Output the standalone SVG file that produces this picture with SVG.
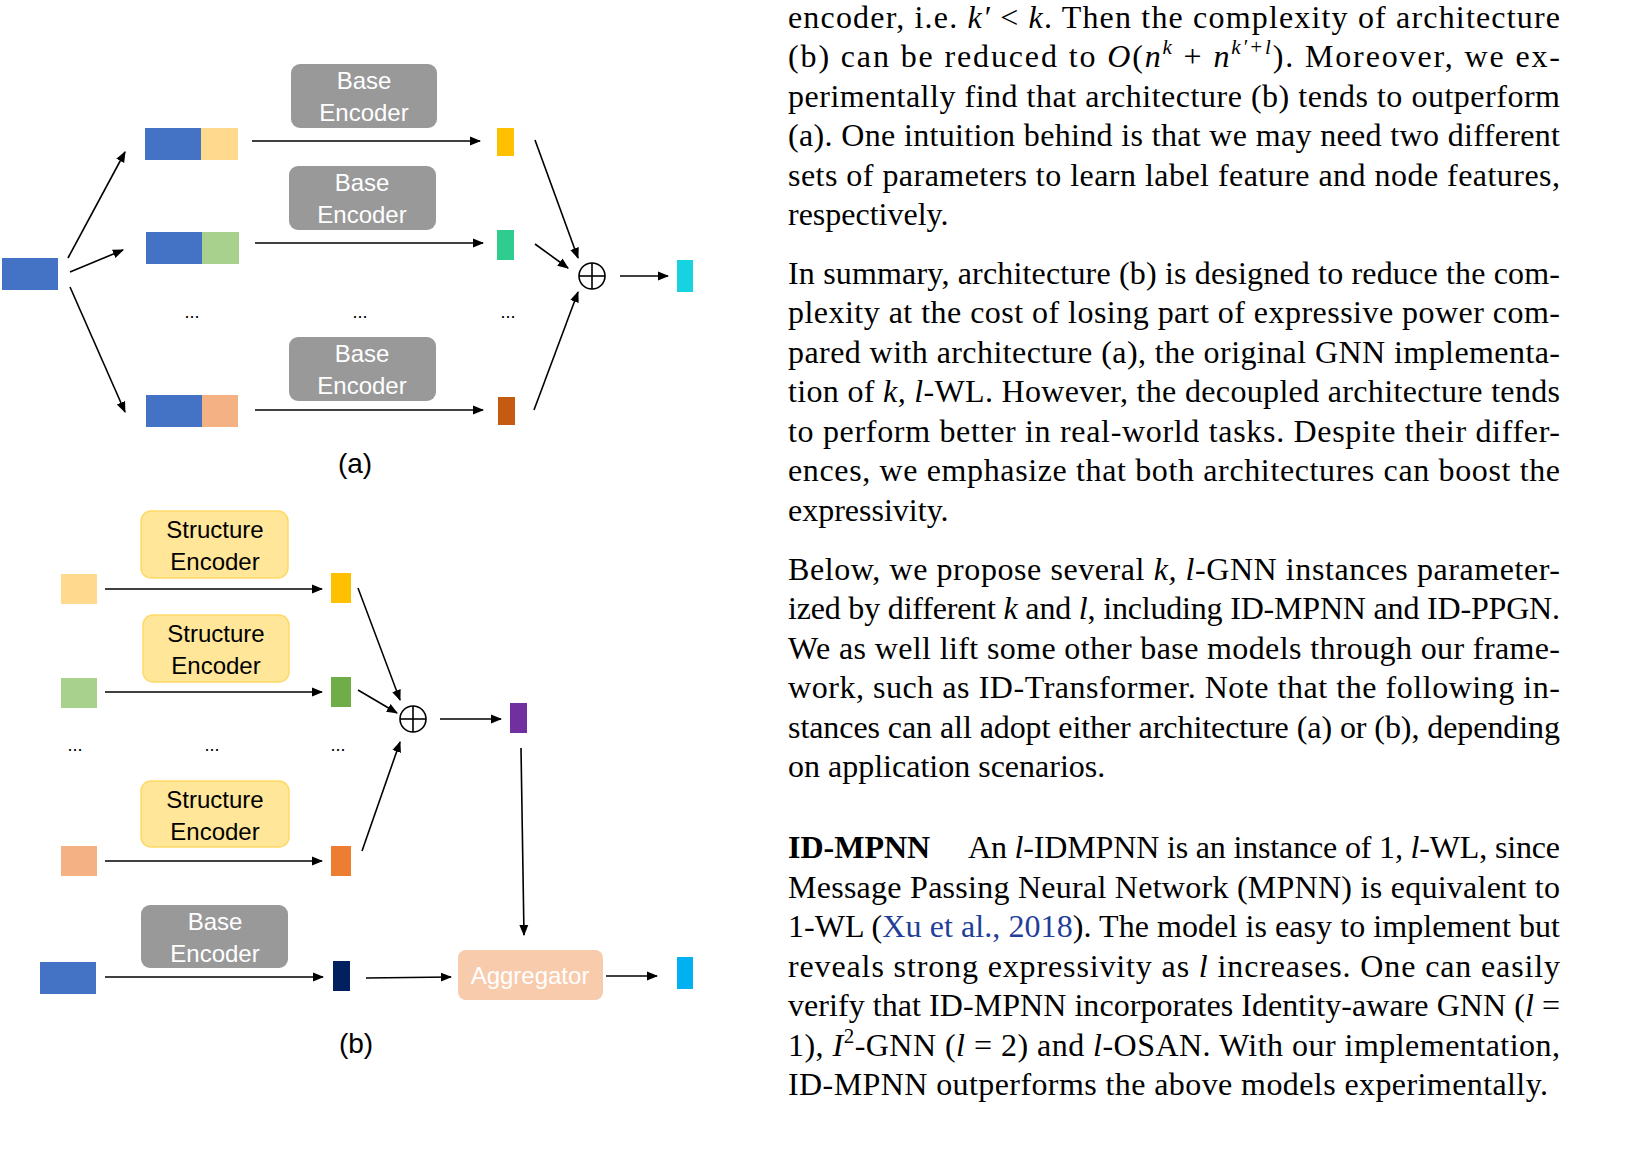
<svg xmlns="http://www.w3.org/2000/svg" width="1650" height="1161" viewBox="0 0 1650 1161">
<defs>
<marker id="ah" viewBox="0 0 10 10" refX="9" refY="5" markerWidth="7" markerHeight="7" orient="auto"><path d="M0,1 L10,5 L0,9 z" fill="#000"/></marker>
<style>
.c line{stroke:#000;stroke-width:1.6;marker-end:url(#ah)}
.gb{fill:#999;}
.gt{font-family:"Liberation Sans",Arial,sans-serif;font-size:24px;fill:#fff;text-anchor:middle}
.st{fill:#FFE699;stroke:#FFD966;stroke-width:1.5}
.stt{font-family:"Liberation Sans",Arial,sans-serif;font-size:24px;fill:#000;text-anchor:middle}
.lab{font-family:"Liberation Sans",Arial,sans-serif;font-size:28px;fill:#000;text-anchor:middle}
.dots{font-family:"Liberation Sans",Arial,sans-serif;font-size:18px;fill:#000;text-anchor:middle}
.p{font-family:"Liberation Serif","Times New Roman",serif;font-size:32px;fill:#000}
.i{font-style:italic}
.b{font-weight:bold}
.ln{fill:#1F3F99}
.pl{fill:none;stroke:#000;stroke-width:1.6}
</style>
</defs>
<rect width="1650" height="1161" fill="#fff"/>

<g id="diagram-a">
<rect x="2" y="258" width="56" height="32" fill="#4472C4"/>
<rect x="145" y="128" width="56" height="32" fill="#4472C4"/><rect x="201" y="128" width="37" height="32" fill="#FFD98E"/>
<rect x="146" y="232" width="56" height="32" fill="#4472C4"/><rect x="202" y="232" width="37" height="32" fill="#A9D18E"/>
<rect x="146" y="395" width="56" height="32" fill="#4472C4"/><rect x="202" y="395" width="36" height="32" fill="#F4B183"/>
<g id="enc-a1"><rect class="gb" x="291" y="64" width="146" height="64" rx="9"/><text class="gt" x="364" y="89">Base</text><text class="gt" x="364" y="121">Encoder</text></g>
<g id="enc-a2"><rect class="gb" x="289" y="166" width="147" height="64" rx="9"/><text class="gt" x="362" y="191">Base</text><text class="gt" x="362" y="223">Encoder</text></g>
<g id="enc-a3"><rect class="gb" x="289" y="337" width="147" height="64" rx="9"/><text class="gt" x="362" y="362">Base</text><text class="gt" x="362" y="394">Encoder</text></g>
<rect x="497" y="128" width="17" height="28" fill="#FFC000"/>
<rect x="497" y="230" width="17" height="30" fill="#2ECC8E"/>
<rect x="498" y="397" width="17" height="28" fill="#C55A11"/>
<text class="dots" x="192" y="318">...</text><text class="dots" x="360" y="318">...</text><text class="dots" x="508" y="318">...</text>
<circle class="pl" cx="592" cy="276" r="13"/><line class="pl" x1="579" y1="276" x2="605" y2="276"/><line class="pl" x1="592" y1="263" x2="592" y2="289"/>
<rect x="677" y="260" width="16" height="32" fill="#17D2E0"/>
<text class="lab" x="355" y="473">(a)</text>
</g>

<g id="diagram-b">
<g id="enc-b1"><rect class="st" x="141" y="511" width="147" height="67" rx="10"/><text class="stt" x="215" y="538">Structure</text><text class="stt" x="215" y="570">Encoder</text></g>
<g id="enc-b2"><rect class="st" x="143" y="615" width="146" height="67" rx="10"/><text class="stt" x="216" y="642">Structure</text><text class="stt" x="216" y="674">Encoder</text></g>
<g id="enc-b3"><rect class="st" x="141" y="781" width="148" height="66" rx="10"/><text class="stt" x="215" y="808">Structure</text><text class="stt" x="215" y="840">Encoder</text></g>
<rect x="61" y="574" width="36" height="30" fill="#FFD98E"/>
<rect x="61" y="678" width="36" height="30" fill="#A9D18E"/>
<rect x="61" y="846" width="36" height="30" fill="#F4B183"/>
<rect x="331" y="573" width="20" height="30" fill="#FFC000"/>
<rect x="331" y="677" width="20" height="30" fill="#70AD47"/>
<rect x="331" y="846" width="20" height="30" fill="#ED7D31"/>
<text class="dots" x="75" y="751">...</text><text class="dots" x="212" y="751">...</text><text class="dots" x="338" y="751">...</text>
<circle class="pl" cx="413" cy="719" r="13"/><line class="pl" x1="400" y1="719" x2="426" y2="719"/><line class="pl" x1="413" y1="706" x2="413" y2="732"/>
<rect x="510" y="703" width="17" height="30" fill="#7030A0"/>
<g id="enc-b4"><rect class="gb" x="141" y="905" width="147" height="63" rx="9"/><text class="gt" x="215" y="930">Base</text><text class="gt" x="215" y="962">Encoder</text></g>
<rect x="40" y="962" width="56" height="32" fill="#4472C4"/>
<rect x="333" y="961" width="17" height="30" fill="#002060"/>
<g id="aggregator"><rect x="458" y="950" width="145" height="50" rx="8" fill="#F8CBAD"/><text class="gt" x="530" y="984">Aggregator</text></g>
<rect x="677" y="957" width="16" height="32" fill="#00B0F0"/>
<text class="lab" x="356" y="1053">(b)</text>
</g>

<g id="connectors" class="c">
<line x1="68" y1="258" x2="125" y2="152"/>
<line x1="70" y1="272" x2="123" y2="250"/>
<line x1="70" y1="287" x2="125" y2="412"/>
<line x1="252" y1="141" x2="480" y2="141"/>
<line x1="255" y1="243" x2="483" y2="243"/>
<line x1="255" y1="410" x2="483" y2="410"/>
<line x1="535" y1="140" x2="578" y2="258"/>
<line x1="535" y1="244" x2="568" y2="268"/>
<line x1="534" y1="410" x2="578" y2="292"/>
<line x1="620" y1="276" x2="668" y2="276"/>
<line x1="105" y1="589" x2="322" y2="589"/>
<line x1="105" y1="692" x2="322" y2="692"/>
<line x1="105" y1="861" x2="322" y2="861"/>
<line x1="358" y1="588" x2="400" y2="700"/>
<line x1="358" y1="690" x2="397" y2="713"/>
<line x1="362" y1="851" x2="400" y2="742"/>
<line x1="440" y1="719" x2="501" y2="719"/>
<line x1="521" y1="748" x2="524" y2="935"/>
<line x1="105" y1="977" x2="323" y2="977"/>
<line x1="366" y1="978" x2="451" y2="977"/>
<line x1="606" y1="976" x2="657" y2="976"/>
</g>

<g id="body-text">
<text class="p" x="788" y="28" textLength="772" lengthAdjust="spacing">encoder, i.e. <tspan class="i">k′</tspan> &lt; <tspan class="i">k</tspan>. Then the complexity of architecture</text>
<text class="p" x="788" y="67" textLength="772" lengthAdjust="spacing">(b) can be reduced to <tspan class="i">O</tspan>(<tspan class="i">n</tspan><tspan class="i" font-size="21" dy="-13">k</tspan><tspan dy="13"> + </tspan><tspan class="i">n</tspan><tspan class="i" font-size="21" dy="-13">k′+l</tspan><tspan dy="13">). Moreover, we ex-</tspan></text>
<text class="p" x="788" y="107" textLength="772" lengthAdjust="spacing">perimentally find that architecture (b) tends to outperform</text>
<text class="p" x="788" y="146" textLength="772" lengthAdjust="spacing">(a). One intuition behind is that we may need two different</text>
<text class="p" x="788" y="186" textLength="772" lengthAdjust="spacing">sets of parameters to learn label feature and node features,</text>
<text class="p" x="788" y="225">respectively.</text>
<text class="p" x="788" y="284" textLength="772" lengthAdjust="spacing">In summary, architecture (b) is designed to reduce the com-</text>
<text class="p" x="788" y="323" textLength="772" lengthAdjust="spacing">plexity at the cost of losing part of expressive power com-</text>
<text class="p" x="788" y="363" textLength="772" lengthAdjust="spacing">pared with architecture (a), the original GNN implementa-</text>
<text class="p" x="788" y="402" textLength="772" lengthAdjust="spacing">tion of <tspan class="i">k, l</tspan>-WL. However, the decoupled architecture tends</text>
<text class="p" x="788" y="442" textLength="772" lengthAdjust="spacing">to perform better in real-world tasks. Despite their differ-</text>
<text class="p" x="788" y="481" textLength="772" lengthAdjust="spacing">ences, we emphasize that both architectures can boost the</text>
<text class="p" x="788" y="521">expressivity.</text>
<text class="p" x="788" y="580" textLength="772" lengthAdjust="spacing">Below, we propose several <tspan class="i">k, l</tspan>-GNN instances parameter-</text>
<text class="p" x="788" y="619" textLength="772" lengthAdjust="spacing">ized by different <tspan class="i">k</tspan> and <tspan class="i">l</tspan>, including ID-MPNN and ID-PPGN.</text>
<text class="p" x="788" y="659" textLength="772" lengthAdjust="spacing">We as well lift some other base models through our frame-</text>
<text class="p" x="788" y="698" textLength="772" lengthAdjust="spacing">work, such as ID-Transformer. Note that the following in-</text>
<text class="p" x="788" y="738" textLength="772" lengthAdjust="spacing">stances can all adopt either architecture (a) or (b), depending</text>
<text class="p" x="788" y="777">on application scenarios.</text>
<text class="p" x="788" y="858"><tspan class="b">ID-MPNN</tspan></text>
<text class="p" x="968" y="858" textLength="592" lengthAdjust="spacing">An <tspan class="i">l</tspan>-IDMPNN is an instance of 1<tspan class="i">, l</tspan>-WL, since</text>
<text class="p" x="788" y="898" textLength="772" lengthAdjust="spacing">Message Passing Neural Network (MPNN) is equivalent to</text>
<text class="p" x="788" y="937" textLength="772" lengthAdjust="spacing">1-WL (<tspan class="ln">Xu et al., 2018</tspan>). The model is easy to implement but</text>
<text class="p" x="788" y="977" textLength="772" lengthAdjust="spacing">reveals strong expressivity as <tspan class="i">l</tspan> increases. One can easily</text>
<text class="p" x="788" y="1016" textLength="772" lengthAdjust="spacing">verify that ID-MPNN incorporates Identity-aware GNN (<tspan class="i">l</tspan> =</text>
<text class="p" x="788" y="1056" textLength="772" lengthAdjust="spacing">1), <tspan class="i">I</tspan><tspan font-size="21" dy="-13">2</tspan><tspan dy="13">-GNN (</tspan><tspan class="i">l</tspan> = 2) and <tspan class="i">l</tspan>-OSAN. With our implementation,</text>
<text class="p" x="788" y="1095" textLength="760" lengthAdjust="spacing">ID-MPNN outperforms the above models experimentally.</text>
</g>
</svg>
